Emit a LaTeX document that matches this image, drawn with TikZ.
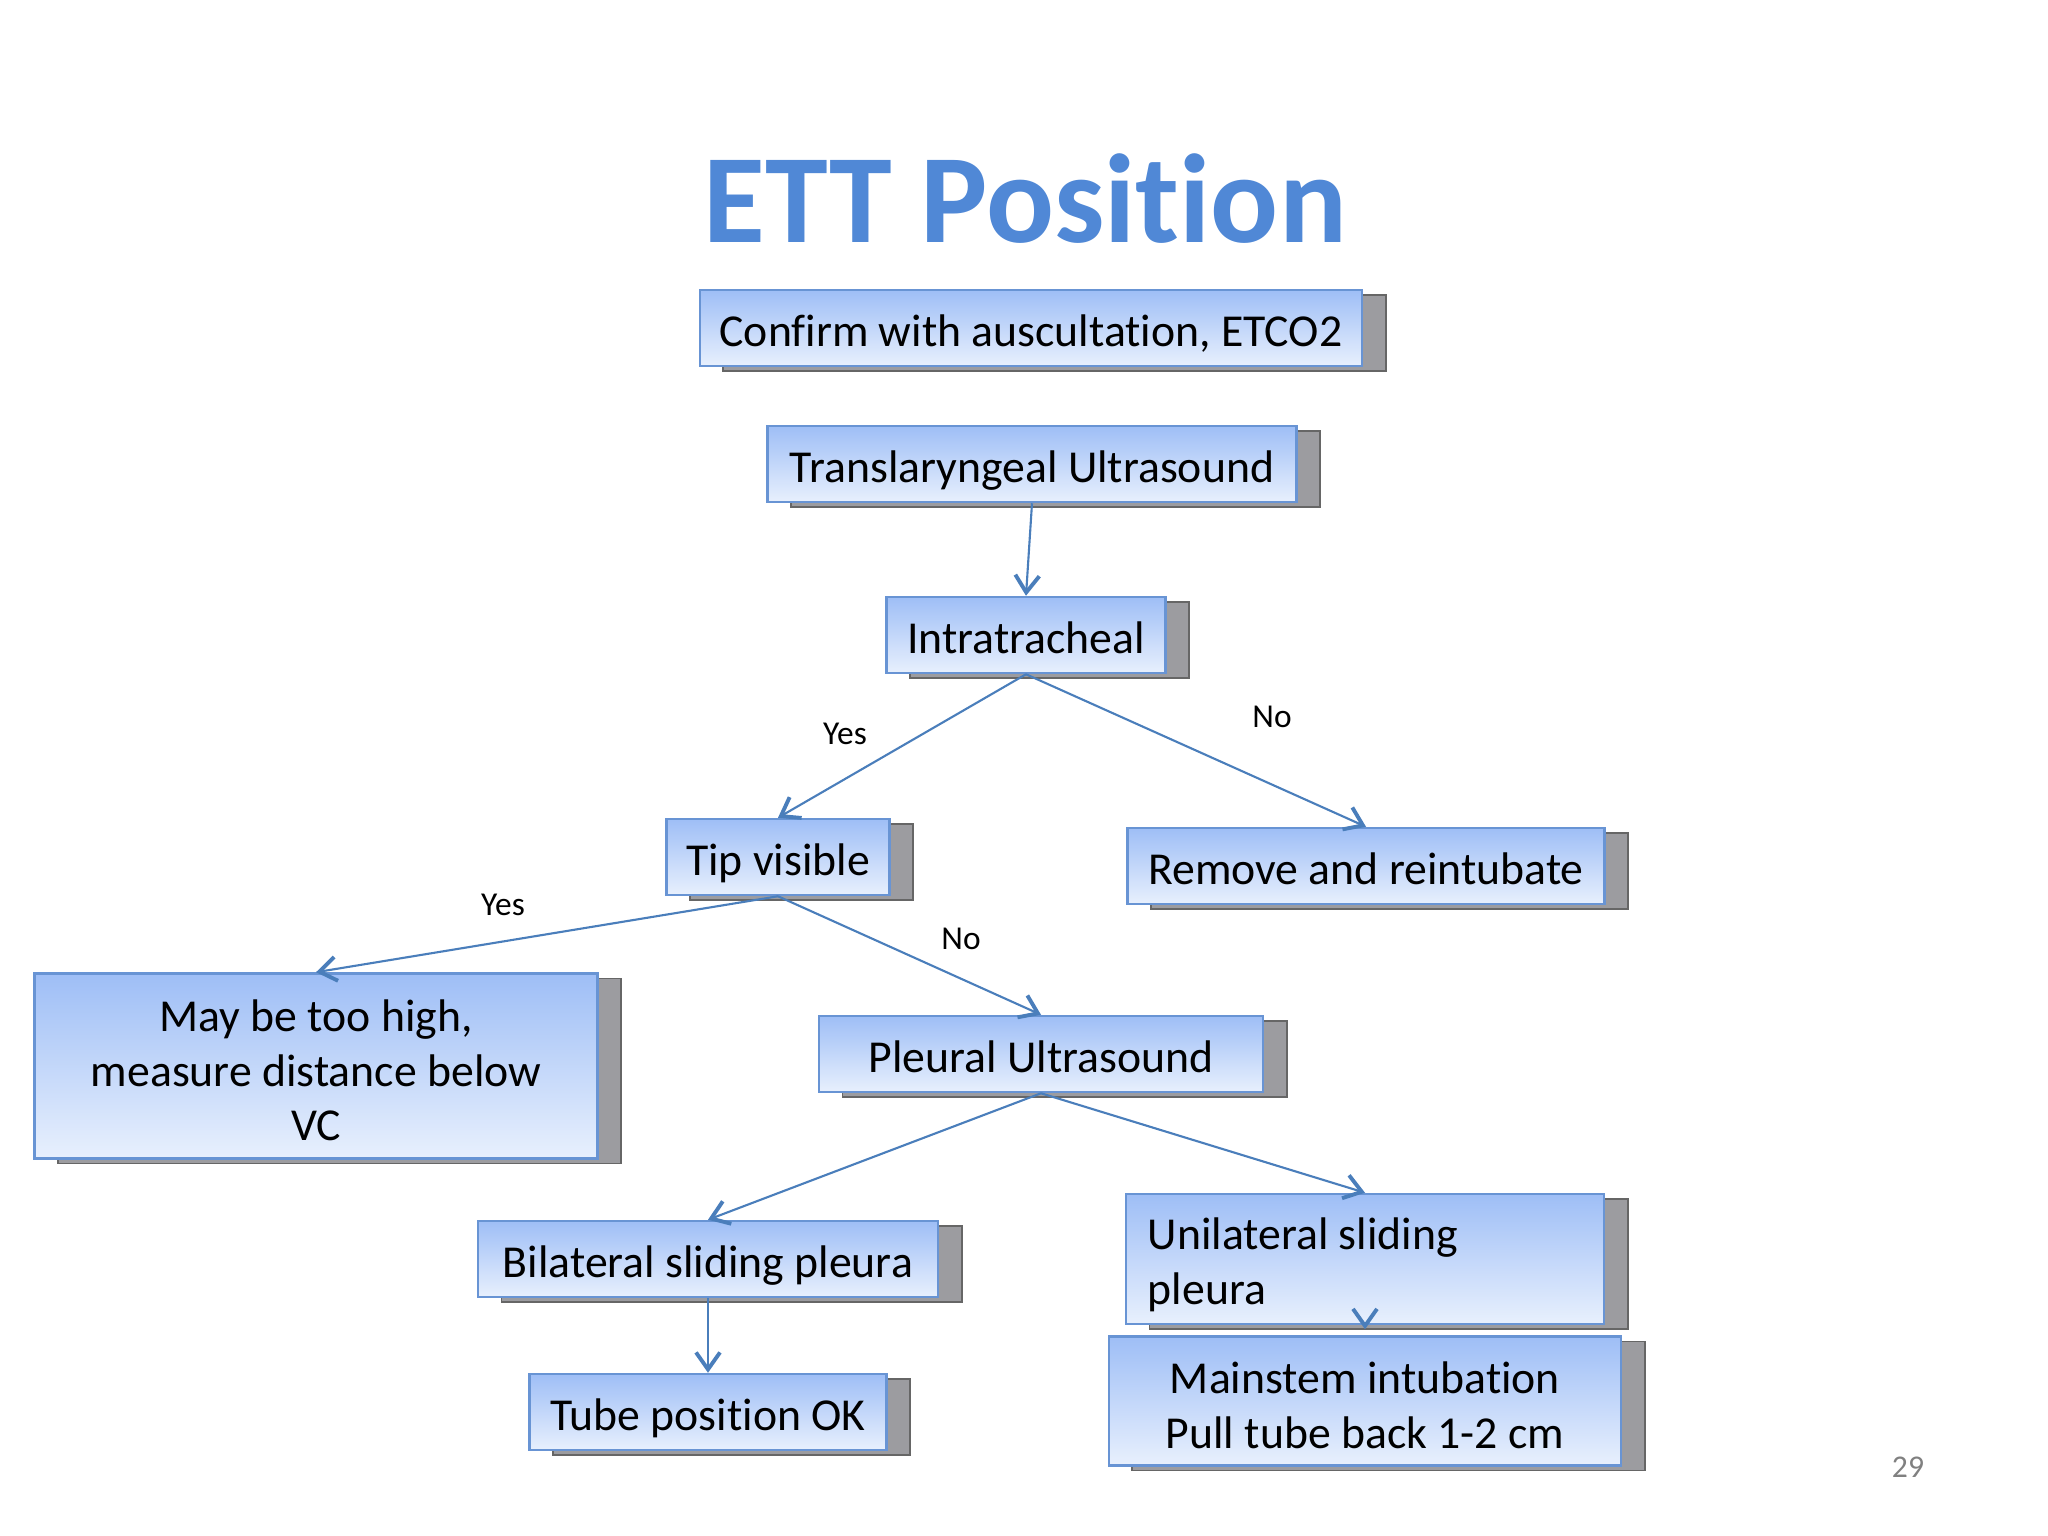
\documentclass[tikz,border=0pt]{standalone}
\usepackage{fontspec}
\setmainfont{Carlito}[Ligatures={NoCommon}]
\usetikzlibrary{arrows.meta,shadows}

\definecolor{titleblue}{RGB}{80,136,214}
\definecolor{boxtop}{RGB}{158,190,246}
\definecolor{boxbottom}{RGB}{232,240,253}
\definecolor{boxedge}{RGB}{104,148,212}
\definecolor{linkblue}{RGB}{74,126,187}
\definecolor{shadowgray}{RGB}{156,156,160}

\begin{document}
\begin{tikzpicture}[x=0.01cm, y=-0.01cm,
    stepbox/.style={draw=boxedge, line width=0.7pt, top color=boxtop, bottom color=boxbottom,
      general shadow={shadow xshift=0.235cm, shadow yshift=-0.05cm, fill=shadowgray, draw=gray!80!black, line width=0.5pt},
      font=\fontsize{13}{15.6}\selectfont, minimum height=0.76cm, inner sep=0pt,
      text height=11.5pt, text depth=1.1pt},
    link/.style={draw=linkblue, line width=0.6pt,
      -{Straight Barb[length=0.17cm, width=0.24cm, line width=1.1pt]}},
    answer/.style={font=\fontsize{9.5}{11}\selectfont}]
  \useasboundingbox (0,0) rectangle (2048,1536);

  % title
  \node[anchor=base, text=titleblue, font=\fontsize{36}{40}\bfseries] (title) at (1025,242) {ETT Posit\kern0pt ion};

  % first checks
  \node[stepbox, minimum width=6.62cm] (confirm) at (1031,328) {Conf\kern0pt irm with auscultation, ETCO2};
  \node[stepbox, minimum width=5.29cm] (larynx) at (1032,464) {Translaryngeal Ultrasound};
  \node[stepbox, minimum width=2.79cm] (intra) at (1026,635) {Intratracheal};

  % second level
  \node[stepbox, minimum width=2.23cm] (tip) at (778,857) {Tip visible};
  \node[stepbox, minimum width=4.77cm] (remove) at (1366,866) {Remove and reintubate};
  \node[stepbox, minimum height=1.85cm, text width=5.63cm, align=flush center,
    text height=10pt, text depth=29.8pt] (high) at (316,1066)
    {May be too high,\\measure distance below\\VC};
  \node[stepbox, minimum width=4.44cm] (pleural) at (1041,1054) {Pleural Ultrasound};

  % pleural findings
  \node[stepbox, minimum width=4.60cm] (bilat) at (708,1259) {Bilateral sliding pleura};
  \node[stepbox, minimum height=1.30cm, text width=4.34cm, inner xsep=0.22cm, align=flush left,
    text height=10pt, text depth=15.2pt] (unilat) at (1365,1259)
    {Unilateral sliding\\pleura};
  \node[stepbox, minimum width=3.57cm] (tubeok) at (708,1412) {Tube position OK};
  \node[stepbox, minimum height=1.29cm, text width=5.12cm, align=flush center,
    text height=10pt, text depth=14pt] (mainstem) at (1365,1401)
    {Mainstem intubation\\Pull tube back 1-2 cm};

  % connectors
  \draw[link] (larynx.south) -- (intra.north);
  \draw[link] (intra.south) -- (tip.north);
  \draw[link] (intra.south) -- (remove.north);
  \draw[link] (tip.south) -- (high.north);
  \draw[link] (tip.south) -- (pleural.north);
  \draw[link] (pleural.south) -- (bilat.north);
  \draw[link] (pleural.south) -- (unilat.north);
  \draw[link] (bilat.south) -- (tubeok.north);
  \draw[link] (unilat.south) -- ([yshift=0.06cm]mainstem.north);

  % yes / no labels
  \node[answer] (yes1) at (845,734) {Yes};
  \node[answer] (no1) at (1272,717) {No};
  \node[answer] (yes2) at (503,905) {Yes};
  \node[answer] (no2) at (961,939) {No};

  % slide number
  \node[text=gray, font=\fontsize{9}{11}\selectfont] (page) at (1908,1467) {29};
\end{tikzpicture}
\end{document}
